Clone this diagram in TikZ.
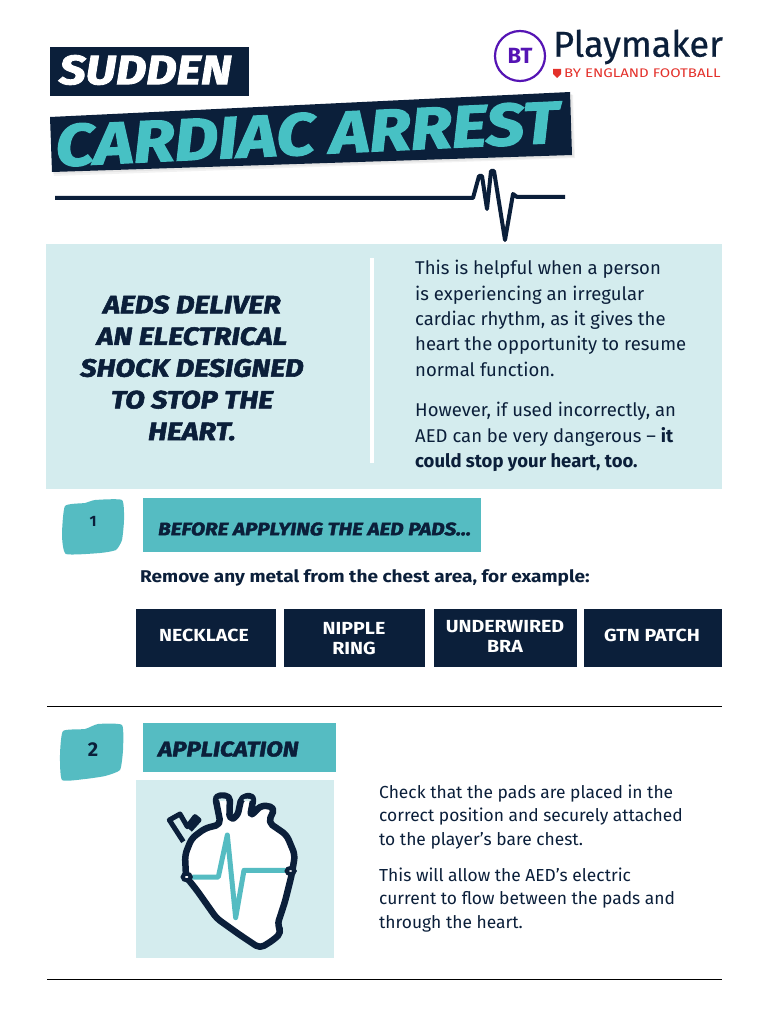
\documentclass[tikz,border=0pt]{standalone}
\usepackage{fontspec}
\setmainfont{Fira Sans}
\newfontfamily\headfont[FakeBold=2.2,FakeStretch=1.15]{Fira Sans}
\newfontfamily\widefont[FakeStretch=1.12]{Fira Sans}
\newfontfamily\logofont[FakeBold=.6]{Fira Sans}
\newfontfamily\farfont[FakeStretch=1.2]{Fira Sans}
\usetikzlibrary{calc}
\definecolor{navy}{HTML}{0B1F3A}
\definecolor{teal}{HTML}{55BCC2}
\definecolor{titleteal}{HTML}{47C1C4}
\definecolor{pale}{HTML}{D4ECEE}
\definecolor{btpurple}{HTML}{5514B4}
\definecolor{fared}{HTML}{E4312B}
\tikzset{
  bodytext/.style={anchor=north west,align=left,text=navy,inner sep=0pt,font=\fontsize{18.5}{25.4}\selectfont},
  smalltext/.style={anchor=north west,align=left,text=navy,inner sep=0pt,font=\fontsize{17.4}{23.2}\selectfont},
  metalbox/.style={anchor=center,align=center,text=white,inner sep=0pt,font=\fontsize{17.5}{20}\widefont\bfseries},
  stephead/.style={anchor=west,text=navy,inner sep=0pt},
}
\begin{document}
\begin{tikzpicture}[x=1pt,y=-1pt]
  \useasboundingbox (0,0) rectangle (768,1024);
  \fill[white] (0,0) rectangle (768,1024);
  % title
  \fill[navy] (50,47) rectangle (249,96);
  \node[anchor=west,text=white,inner sep=0pt,font=\fontsize{41}{41}\headfont\bfseries\itshape] (sudden) at (59,70) {SUDDEN};
  \fill[black,opacity=.05] (50,120) -- (573,95) -- (575,158) -- (54,176) -- cycle;
  \fill[black,opacity=.05] (50,119) -- (572,94) -- (574,157) -- (53,174) -- cycle;
  \fill[navy] (50,117) -- (570,92) -- (572,155) -- (52,172) -- cycle;
  \node[anchor=center,rotate=2.7,text=titleteal,inner sep=0pt,font=\fontsize{59}{59}\headfont\bfseries\itshape] (cardiac) at (307,134) {CARDIAC ARREST};
  % heart beat line
  \draw[navy,line width=4pt,line join=round] (55,198) -- (473,198) -- (479,176) -- (482,176) -- (487,209) -- (491,171)
    -- (494,171) -- (505,240) -- (513,194) -- (517,197) -- (565,197);
  % logo
  \draw[btpurple,line width=2.2pt] (520,56) circle (25);
  \node[text=btpurple,inner sep=0pt,font=\fontsize{22}{22}\selectfont\bfseries] (bt) at (520,56) {BT};
  \node[anchor=west,text=navy,inner sep=0pt,font=\fontsize{36}{36}\logofont] (playmaker) at (553,47) {Playmaker};
  \fill[fared] (553,69) -- (561,69) -- (561,74) -- (557,78) -- (553,74) -- cycle;
  \node[anchor=west,text=fared,inner sep=0pt,font=\fontsize{12.5}{13}\farfont] (england) at (564,73) {BY ENGLAND FOOTBALL};
  % top panel
  \fill[pale] (46,244) rectangle (722,489);
  \fill[white] (370,258) rectangle (374,463);
  \node[anchor=center,align=center,text=navy,inner sep=0pt,font=\fontsize{25}{31.7}\headfont\bfseries\itshape] (aeds) at (192,368)
    {AEDS DELIVER\\AN ELECTRICAL\\SHOCK DESIGNED\\TO STOP THE\\HEART.};
  \node[bodytext] (helpful) at (415,260) {This is helpful when a person\\is experiencing an irregular\\cardiac rhythm, as it gives the\\heart the opportunity to resume\\normal function.};
  \node[bodytext] (however) at (415,402) {However, if used incorrectly, an\\AED can be very dangerous -- \textbf{it}\\\textbf{could stop your heart, too.}};
  % step 1
  \fill[teal] plot[smooth cycle,tension=.3] coordinates {(65,506) (85,503) (95,500) (122,500) (124,520) (122,540) (116,550) (100,553) (66,554) (62,535)};
  \node[text=navy,inner sep=0pt,font=\fontsize{15}{15}\selectfont\bfseries] (one) at (93,521) {1};
  \fill[teal] (143,498) rectangle (481,552);
  \node[stephead,font=\fontsize{18}{18}\headfont\bfseries\itshape] (before) at (158,529) {BEFORE APPLYING THE AED PADS...};
  \node[anchor=west,text=navy,inner sep=0pt,font=\fontsize{17}{17}\widefont\bfseries] (remove) at (140,578) {Remove any metal from the chest area, for example:};
  \fill[navy] (136,609) rectangle (276,667);
  \node[metalbox] (necklace) at (204,635) {NECKLACE};
  \fill[navy] (284,609) rectangle (425,667);
  \node[metalbox] (nipple) at (354,639) {NIPPLE\\RING};
  \fill[navy] (434,609) rectangle (577,667);
  \node[metalbox] (bra) at (505,636) {UNDERWIRED\\BRA};
  \fill[navy] (584,609) rectangle (722,667);
  \node[metalbox] (gtn) at (652,635) {GTN PATCH};
  \draw[black,line width=.8pt] (47,706) -- (722,706);
  % step 2
  \fill[teal] plot[smooth cycle,tension=.3] coordinates {(63,731) (85,729) (98,724) (122,725) (123,750) (120,770) (105,776) (85,779) (62,780) (60,755)};
  \node[text=navy,inner sep=0pt,font=\fontsize{20}{20}\selectfont\bfseries] (two) at (93,750) {2};
  \fill[teal] (143,723) rectangle (336,772);
  \node[stephead,font=\fontsize{21}{21}\headfont\bfseries\itshape] (application) at (158,749) {APPLICATION};
  \fill[pale] (136,780) rectangle (334,958);
  % heart
  \begin{scope}[shift={(130,775)},x=.3333pt,y=-.3333pt]
    \draw[navy,line width=5pt,line join=round,fill=pale] (160,200) -- (118,135) -- (150,117) -- (172,155) -- (195,125) -- (207,135) -- (180,165);
    \draw[navy,line width=6.5pt,line join=round,rounded corners=5pt,fill=white] (168,305) -- (165,240) -- (185,190) -- (225,160) -- (272,148)
      -- (255,62) -- (300,62) -- (298,135) -- (322,125) -- (335,65) -- (372,62) -- (360,125) -- (395,90) -- (435,98) -- (415,142)
      -- (470,180) -- (495,240) -- (485,300) -- (465,380) -- (442,450) -- (455,472) -- (430,495) -- (390,520) -- (330,480)
      -- (260,430) -- (200,345) -- cycle;
    \fill[pale] (277,74) ellipse (12 and 4) (352,75) ellipse (12 and 4);
    \draw[teal,line width=5pt,line join=round,line cap=round] (190,306) -- (265,306) -- (292,180) -- (317,428) -- (342,286) -- (465,286);
    \draw[navy,line width=4pt,fill=white] (170,306) circle (12 and 10);
    \draw[navy,line width=4pt,fill=white] (482,288) circle (12 and 9);
  \end{scope}
  \node[smalltext] (check) at (379,785) {Check that the pads are placed in the\\correct position and securely attached\\to the player's bare chest.};
  \node[smalltext] (allow) at (379,868) {This will allow the AED's electric\\current to flow between the pads and\\through the heart.};
  \draw[black,line width=1pt] (47,979) -- (722,979);
\end{tikzpicture}
\end{document}
